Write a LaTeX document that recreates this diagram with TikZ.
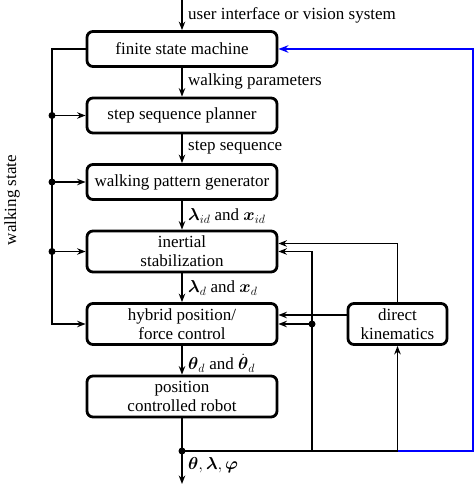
\documentclass[tikz,border=0pt]{standalone}
\usepackage{amsmath}
\usepackage{fontspec}
\setmainfont{Liberation Serif}
\newfontfamily\blockfont{Liberation Serif}
\usepackage{tikz}
\usetikzlibrary{arrows.meta}

\tikzset{
  block/.style={draw, line width=2.8pt, rounded corners=6pt, minimum width=190pt, minimum height=35pt, inner sep=0pt, align=center},
  sig/.style={line width=1.5pt, -{Stealth[length=8.5pt,width=6.5pt]}},
  wire/.style={line width=1.5pt},
  fb/.style={draw=blue, line width=2.2pt},
  lbl/.style={anchor=west, inner sep=0pt},
  dot/.style={circle, fill=black, inner sep=0pt, minimum size=7pt}
}

\begin{document}
\begin{tikzpicture}[x=1pt, y=-1pt, font=\blockfont\fontsize{17}{19}\selectfont]
        \useasboundingbox (0,0) rectangle (474,484);
        % blocks
        \node[block] (fsm) at (182,49) {finite state machine};
        \node[block] (planner) at (182,115.5) {step sequence planner};
        \node[block] (generator) at (182,182) {walking pattern generator};
        \node[block, minimum height=41pt] (stab) at (182,251.5) {inertial\\stabilization};
        \node[block, minimum height=41pt] (hybrid) at (182,324) {hybrid position/\\force control};
        \node[block, minimum height=41pt] (robot) at (182,396.5) {position\\controlled robot};
        \node[block, minimum width=99pt, minimum height=41pt] (dirkin) at (397.5,324) {direct\\kinematics};

        \coordinate (in) at (182,0);
        \coordinate (out) at (182,451);
        \coordinate (end) at (182,484);
        \coordinate (edge) at (473,451);
        \coordinate (bus) at (52,324);
        \coordinate (tap) at (312,451);

        % forward path
        \draw[sig] (in) -- (fsm.north);
        \draw[sig] (fsm.south) -- (planner.north);
        \draw[sig] (planner.south) -- (generator.north);
        \draw[sig] (generator.south) -- (stab.north);
        \draw[sig] (stab.south) -- (hybrid.north);
        \draw[sig] (hybrid.south) -- (robot.north);
        \draw[wire] (robot.south) -- (out);
        \draw[sig] (out) -- (end);

        % walking state bus
        \draw[sig] (fsm.west) -| (bus) -- (hybrid.west);
        \foreach \n in {planner, generator, stab} {
          \draw[sig] (\n.west -| bus) -- (\n.west);
          \node[dot] at (\n.west -| bus) {};
        }

        % feedback
        \draw[fb, -{Stealth[length=10pt,width=7.5pt]}] (out) -- (edge) |- (fsm.east);
        \draw[wire] (out) -- (out -| dirkin);
        \draw[sig] (tap) |- (stab.east);
        \draw[sig] (tap |- hybrid.east) -- (hybrid.east);
        \node[dot] at (tap |- hybrid.east) {};
        \draw[sig] (out -| dirkin) -- (dirkin.south);
        \draw[sig] (dirkin.north) |- ([yshift=8pt]stab.east);
        \draw[sig] ([yshift=9pt]dirkin.west) -- ([yshift=9pt]dirkin.west -| hybrid.east);
        \node[dot] at (out) {};

        % labels
        \node[lbl] (l0) at (188,15) {user interface or vision system};
        \node[lbl] (l1) at (188,81) {walking parameters};
        \node[lbl] (l2) at (188,148) {step sequence};
        \node[lbl] (l3) at (188,216) {$\boldsymbol{\lambda}_{id}$ and $\boldsymbol{x}_{id}$};
        \node[lbl] (l4) at (188,288) {$\boldsymbol{\lambda}_{d}$ and $\boldsymbol{x}_{d}$};
        \node[lbl] (l5) at (188,363) {$\boldsymbol{\theta}_{d}$ and $\dot{\boldsymbol{\theta}}_{d}$};
        \node[lbl] (l6) at (188,465) {$\boldsymbol{\theta}, \boldsymbol{\lambda}, \boldsymbol{\varphi}$};
        \node[rotate=90] (ws) at (12,200) {walking state};
\end{tikzpicture}
\end{document}
